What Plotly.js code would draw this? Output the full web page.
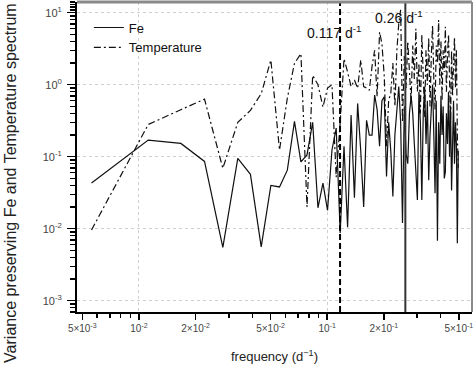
<!DOCTYPE html>
<html>
<head>
<meta charset="utf-8">
<script src="https://cdn.plot.ly/plotly-3.0.1.min.js"></script>
<style>html,body{margin:0;padding:0;background:#fff;}#chart{width:474px;height:366px;}</style>
</head>
<body>
<div id="chart"></div>
<script>
// frequency (d^-1)
const frequency = [0.0056, 0.0112, 0.0167, 0.0223, 0.0279, 0.0335, 0.0391, 0.0446, 0.0502, 0.0558,
  0.0614, 0.0670, 0.0725, 0.0781, 0.0837, 0.0893, 0.0949, 0.1004, 0.1060, 0.1116,
  0.1172, 0.1228, 0.1283, 0.1339, 0.1395, 0.1451, 0.1507, 0.1562, 0.1618, 0.1674,
  0.1730, 0.1786, 0.1841, 0.1897, 0.1953, 0.2009, 0.2065, 0.2120, 0.2176, 0.2232,
  0.2288, 0.2344, 0.2399, 0.2455, 0.2511, 0.2567, 0.2623, 0.2678, 0.2734, 0.2790,
  0.2846, 0.2902, 0.2957, 0.3013, 0.3069, 0.3125, 0.3181, 0.3236, 0.3292, 0.3348,
  0.3404, 0.3460, 0.3515, 0.3571, 0.3627, 0.3683, 0.3739, 0.3794, 0.3850, 0.3906,
  0.3962, 0.4018, 0.4073, 0.4129, 0.4185, 0.4241, 0.4297, 0.4352, 0.4408, 0.4464,
  0.4520, 0.4576, 0.4631, 0.4687, 0.4743, 0.4799, 0.4855, 0.4910, 0.4966];

const feSpectrum = [0.043, 0.17, 0.153, 0.086, 0.0055, 0.095, 0.057, 0.0056, 0.040, 0.038,
  0.065, 0.31, 0.085, 0.106, 0.30, 0.0195, 0.043, 0.018, 0.124, 0.25,
  0.0087, 0.14, 0.0105, 0.38, 0.027, 0.55, 0.12, 0.02, 0.32, 0.2,
  0.2, 0.72, 0.45, 0.14, 0.6, 0.68, 0.053, 0.3, 0.12, 0.028,
  0.2, 0.5, 0.94, 0.3, 0.012, 0.5, 0.11, 0.08, 0.4, 0.7,
  0.4, 0.15, 0.06, 0.025, 0.8, 0.3, 0.025, 0.4, 0.94, 0.15,
  0.6, 0.047, 0.2, 0.5, 1.0, 0.2, 0.031, 0.6, 0.0068, 0.3,
  0.08, 0.7, 0.2, 0.5, 0.05, 0.061, 0.4, 0.15, 0.8, 0.1,
  0.5, 0.034, 0.3, 0.6, 0.08, 0.3, 0.15, 0.0063, 0.12];

const temperatureSpectrum = [0.0096, 0.28, 0.45, 0.63, 0.069, 0.3, 0.44, 0.75, 2.2, 0.124,
  0.65, 1.98, 2.7, 0.02, 1.35, 1.0, 0.49, 0.9, 1.0, 0.052,
  0.3, 2.3, 1.5, 0.94, 1.16, 0.89, 2.2, 0.94, 0.9, 0.84,
  1.8, 3.0, 0.68, 5.4, 3.7, 1.3, 0.14, 0.61, 0.76, 2.0,
  0.5, 3.0, 7.1, 11, 0.3, 2.5, 0.9, 4.0, 1.5, 0.6,
  3.5, 1.2, 6.0, 0.8, 2.0, 0.4, 5.0, 1.5, 0.36, 3.0,
  1.0, 4.5, 0.5, 2.5, 6.7, 1.2, 0.45, 3.5, 2.0, 7.9,
  1.0, 4.0, 0.6, 3.0, 1.5, 6.4, 0.8, 2.5, 5.0, 1.2,
  0.3, 3.0, 0.7, 2.0, 4.6, 0.9, 3.0, 0.2, 0.07];

const markerFreqs = [0.117, 0.26];
const markerLabels = ['0.117 d<sup>-1</sup>', '0.26 d<sup>-1</sup>'];

const xTickVals = [0.005, 0.01, 0.02, 0.05, 0.1, 0.2, 0.5];
const xTickText = ['5×10<sup>-3</sup>', '10<sup>-2</sup>', '2×10<sup>-2</sup>', '5×10<sup>-2</sup>', '10<sup>-1</sup>', '2×10<sup>-1</sup>', '5×10<sup>-1</sup>'];
const xMinorVals = [0.006, 0.007, 0.008, 0.009, 0.03, 0.04, 0.06, 0.07, 0.08, 0.09, 0.3, 0.4];
const xGridVals = [0.01, 0.1];
const yTickVals = [0.001, 0.01, 0.1, 1, 10];
const yTickText = ['10<sup>-3</sup>', '10<sup>-2</sup>', '10<sup>-1</sup>', '10<sup>0</sup>', '10<sup>1</sup>'];
const yMinorVals = [0.0007, 0.0008, 0.0009,
  0.002, 0.003, 0.004, 0.005, 0.006, 0.007, 0.008, 0.009,
  0.02, 0.03, 0.04, 0.05, 0.06, 0.07, 0.08, 0.09,
  0.2, 0.3, 0.4, 0.5, 0.6, 0.7, 0.8, 0.9,
  2, 3, 4, 5, 6, 7, 8, 9, 11, 12, 13, 14];

const yTitle = 'Variance preserving Fe and Temperature spectrum';
const xTitle = 'frequency (d<sup>−1</sup>)';

const FONT = 'Liberation Sans, Arial, sans-serif';
const xRange = [-2.329, -0.231];
const yRange = [-3.157, 1.149];

const traces = [
  {x: frequency, y: feSpectrum, type: 'scatter', mode: 'lines', name: 'Fe',
   line: {color: '#111', width: 1.2}},
  {x: frequency, y: temperatureSpectrum, type: 'scatter', mode: 'lines', name: 'Temperature',
   line: {color: '#111', width: 1.2, dash: '7px,3px,2px,3px'}},
  // invisible trace to activate the grid overlay axis
  {x: xGridVals, y: [1, 1], xaxis: 'x2', yaxis: 'y', type: 'scatter', mode: 'lines',
   line: {width: 0}, showlegend: false, hoverinfo: 'skip', opacity: 0}
];

const shapes = [
  {type: 'line', xref: 'x', yref: 'paper', x0: markerFreqs[0], x1: markerFreqs[0], y0: 0, y1: 1,
   line: {color: '#000', width: 2, dash: '6px,3px'}},
  {type: 'line', xref: 'x', yref: 'paper', x0: markerFreqs[1], x1: markerFreqs[1], y0: 0, y1: 1,
   line: {color: '#333', width: 2}},
  {type: 'line', xref: 'paper', yref: 'paper', x0: 0, x1: 1, y0: 1, y1: 1,
   line: {color: '#8a8a8a', width: 3}},
  {type: 'line', xref: 'paper', yref: 'paper', x0: 1, x1: 1, y0: 0, y1: 1,
   line: {color: '#8a8a8a', width: 2}}
];

const annotations = [
  {x: Math.log10(markerFreqs[0]), y: Math.log10(5.4), xref: 'x', yref: 'y', text: markerLabels[0],
   showarrow: false, xanchor: 'center', xshift: -6, font: {family: FONT, size: 14, color: '#111'}},
  {x: Math.log10(markerFreqs[1]), y: Math.log10(8.8), xref: 'x', yref: 'y', text: markerLabels[1],
   showarrow: false, xanchor: 'center', xshift: -6, font: {family: FONT, size: 14, color: '#111'}},
  // y-axis title (placed as rotated text so it can sit lower than the plot centre, as in the reference)
  {x: -0.17, y: 0.416, xref: 'paper', yref: 'paper', text: yTitle, textangle: -90,
   showarrow: false, xanchor: 'center', yanchor: 'middle', font: {family: FONT, size: 16, color: '#222'}}
];

const layout = {
  width: 474, height: 366,
  margin: {l: 77, r: 2, t: 2, b: 54},
  paper_bgcolor: '#fff', plot_bgcolor: '#fff',
  font: {family: FONT, size: 11, color: '#333'},
  showlegend: true,
  legend: {x: 0.03, y: 0.966, xanchor: 'left', yanchor: 'top', bgcolor: 'rgba(0,0,0,0)',
    font: {family: FONT, size: 13, color: '#111'}, tracegroupgap: 0, itemwidth: 30},
  xaxis: {type: 'log', range: xRange, tickmode: 'array', tickvals: xTickVals, ticktext: xTickText,
    ticks: 'outside', ticklen: 6, tickwidth: 1.5, tickcolor: '#000',
    showline: true, linecolor: '#000', linewidth: 2, showgrid: false, zeroline: false,
    tickfont: {family: FONT, size: 10, color: '#444'},
    minor: {tickmode: 'array', tickvals: xMinorVals, ticks: 'outside', ticklen: 4, tickwidth: 1.5, tickcolor: '#000', showgrid: false},
    title: {text: xTitle, font: {family: FONT, size: 13, color: '#222'}, standoff: 19}},
  xaxis2: {type: 'log', range: xRange, overlaying: 'x', tickmode: 'array', tickvals: xGridVals,
    showticklabels: false, ticks: '', showline: false, showgrid: true, gridcolor: '#cfcfcf',
    griddash: 'dot', gridwidth: 1, zeroline: false, layer: 'below traces'},
  yaxis: {type: 'log', range: yRange, tickmode: 'array', tickvals: yTickVals, ticktext: yTickText,
    ticks: 'outside', ticklen: 8, tickwidth: 1.5, tickcolor: '#000',
    showline: true, linecolor: '#000', linewidth: 2, showgrid: true, gridcolor: '#cfcfcf',
    griddash: 'dot', gridwidth: 1, zeroline: false, ticklabelstandoff: 3,
    tickfont: {family: FONT, size: 11, color: '#444'},
    minor: {tickmode: 'array', tickvals: yMinorVals, ticks: 'outside', ticklen: 5, tickwidth: 1.5, tickcolor: '#000', showgrid: false}},
  shapes: shapes,
  annotations: annotations
};

Plotly.newPlot('chart', traces, layout, {staticPlot: true, displayModeBar: false});
</script>
</body>
</html>
